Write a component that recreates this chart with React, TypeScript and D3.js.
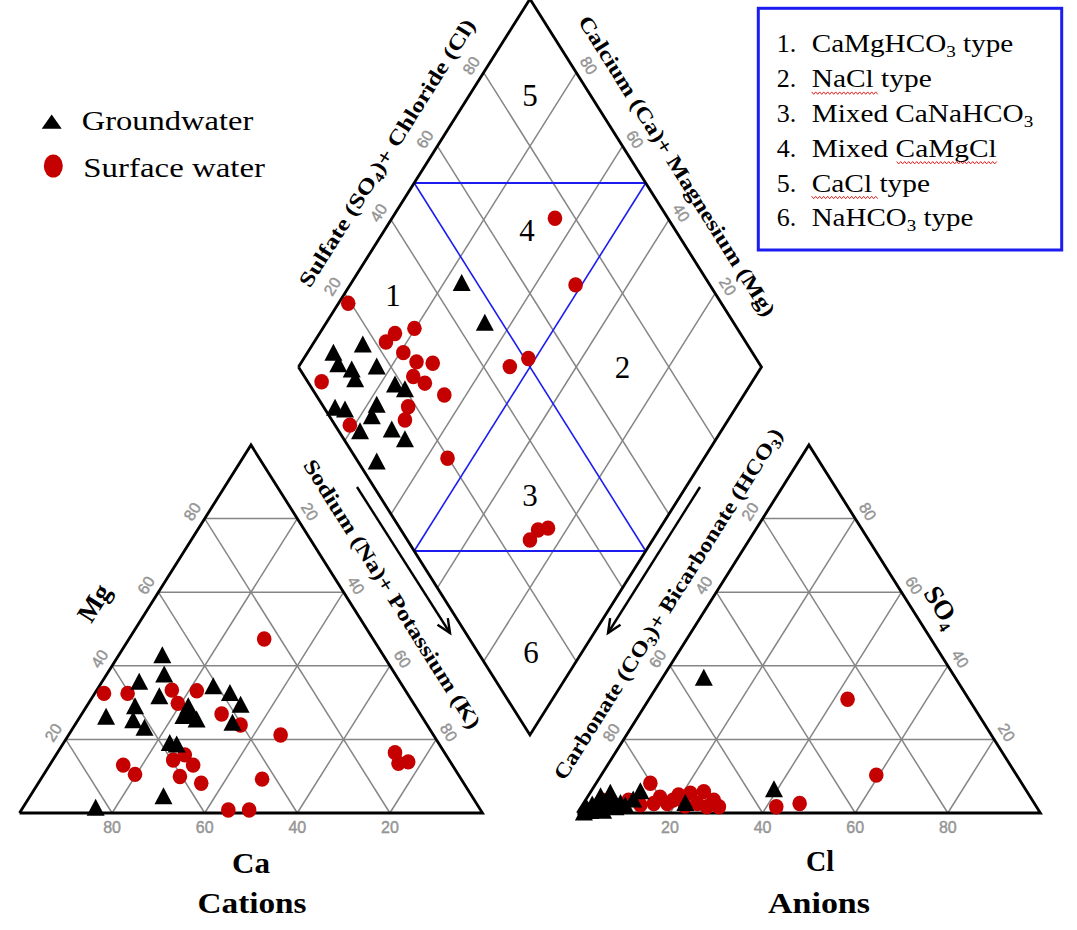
import React from "react";
import * as d3 from "d3";

const W = 1077;
const H = 930;

// geometry in triangle units (side = 1, height = 1)
const GAP = 0.205;
const DY0 = 0.212;
const TICKS = [20, 40, 60, 80];

// Cation triangle: [Ca %, Mg %]  (Na+K = 100 - Ca - Mg)
const cationGW: [number, number][] = [
  [47.8, 42.7], [50.0, 37.5], [56.4, 35.5], [54.0, 31.6], [68.3, 26.0], [60.6, 28.9],
  [62.9, 25.1], [61.5, 23.0], [49.1, 28.9], [49.9, 26.2], [49.1, 25.3], [51.5, 26.2],
  [41.0, 34.3], [38.3, 32.5], [37.6, 29.3], [41.8, 24.4], [58.1, 18.9], [56.8, 18.5],
  [66.7, 4.4], [82.9, 1.3],
];
const cationSW: [number, number][] = [
  [23.5, 47.3], [65.5, 32.5], [60.4, 32.5], [50.4, 33.4], [45.1, 33.2], [50.9, 29.8],
  [42.9, 26.9], [40.3, 23.9], [33.0, 21.2], [71.1, 13.0], [69.8, 10.5], [56.4, 15.8],
  [59.6, 14.4], [56.0, 13.0], [60.4, 9.9], [56.7, 8.1], [43.0, 9.2], [54.5, 0.8],
  [50.0, 0.8], [10.7, 16.4], [11.4, 13.5], [9.1, 13.9],
];

// Anion triangle: [SO4 %, Cl %]  (HCO3 = 100 - SO4 - Cl)
const anionGW: [number, number][] = [
  [36.6, 9.0], [6.3, 39.3], [0.4, 2.6], [1.7, 3.0], [5.4, 4.4], [2.6, 8.0], [5.8, 10.7],
  [2.6, 22.0], [4.4, 2.8], [0.0, 1.4], [3.5, 10.3], [1.4, 1.2], [2.2, 2.1], [1.4, 3.8],
  [1.9, 5.0], [1.4, 7.5], [1.9, 9.4], [0.5, 2.1], [0.5, 5.3], [3.0, 6.1],
];
const anionSW: [number, number][] = [
  [30.9, 42.9], [10.3, 59.4], [2.6, 46.7], [1.7, 42.1], [8.1, 11.7], [4.9, 19.4],
  [5.4, 21.7], [5.8, 24.4], [3.5, 27.7], [1.7, 29.7], [2.6, 24.6], [2.6, 18.1],
  [2.6, 15.2], [3.5, 9.3], [3.5, 3.6], [1.7, 7.3], [3.5, 18.9], [1.7, 27.1],
  [4.3, 15.7], [1.9, 22.3], [2.2, 12.5], [2.7, 5.3],
];

// Diamond: [Na+K %, SO4+Cl %]
const diamondGW: [number, number][] = [
  [23.9, 46.6], [34.3, 46.2], [10.9, 16.9], [5.7, 9.4], [8.3, 8.9], [11.9, 11.1],
  [14.0, 10.5], [16.9, 16.9], [23.3, 18.4], [26.1, 19.9], [13.5, 2.3], [15.9, 4.2],
  [22.1, 11.7], [22.6, 9.1], [22.1, 4.5], [28.7, 11.6], [32.9, 13.1], [29.8, 4.0],
];
const diamondSW: [number, number][] = [
  [35.2, 75.6], [48.7, 71.0], [45.6, 45.7], [48.5, 50.8], [2.1, 19.4], [16.3, 25.4],
  [15.5, 22.3], [19.8, 30.3], [20.7, 24.6], [24.8, 26.2], [28.5, 29.5], [7.0, 3.0],
  [26.1, 23.5], [29.5, 25.1], [35.3, 27.7], [29.1, 18.3], [30.2, 15.8], [19.0, 3.2],
  [44.6, 19.8], [73.5, 26.5], [73.9, 29.6], [75.8, 32.0],
];

// hydrochemical facies numbers, placed at [Na+K %, SO4+Cl %]
const regionNames = ["1", "2", "3", "4", "5", "6"];
const regionPos: [number, number][] = [
  [10.6, 30.2], [70, 70], [67.4, 32.6], [30.7, 68], [13, 87], [88.9, 11.5],
];

const legendItems = [
  { num: "1.", main: "CaMgHCO", sub: "3", rest: " type", len: 201.6, wavy: null },
  { num: "2.", main: "NaCl type", sub: "", rest: "", len: 120, wavy: [0, 66] },
  { num: "3.", main: "Mixed CaNaHCO", sub: "3", rest: "", len: 221.6, wavy: null },
  { num: "4.", main: "Mixed CaMgCl", sub: "", rest: "", len: 185, wavy: [85, 185] },
  { num: "5.", main: "CaCl type", sub: "", rest: "", len: 118.3, wavy: [0, 66] },
  { num: "6.", main: "NaHCO", sub: "3", rest: " type", len: 161.6, wavy: null },
];

const sx = d3.scaleLinear().domain([0, 1]).range([19.5, 19.5 + 463]);
const sy = d3.scaleLinear().domain([0, 1]).range([813, 813 - 368]);

const cationXY = (ca: number, mg: number): [number, number] => {
  const na = 100 - ca - mg;
  return [sx(na / 100 + mg / 200), sy(mg / 100)];
};
const anionXY = (so4: number, cl: number): [number, number] => [
  sx(1 + GAP + cl / 100 + so4 / 200),
  sy(so4 / 100),
];
const diamondXY = (n: number, c: number): [number, number] => {
  const lx = 0.5 + GAP / 2;
  const ly = DY0 + 1;
  return [sx(lx + 0.5 * (c / 100) + 0.5 * (n / 100)), sy(ly + c / 100 - n / 100)];
};

const RED = "#c50000";
const GRID = "#858585";
const BLUE = "#1c1cf0";
const SERIF = "'Liberation Serif', 'Times New Roman', serif";
const SANS = "'Liberation Sans', Arial, sans-serif";
const ANG = 57.8;

const line = d3.line<[number, number]>();

function Tri({ x, y }: { x: number; y: number }) {
  return <path d={`M${x},${y - 9.5}L${x + 9},${y + 7.5}L${x - 9},${y + 7.5}Z`} fill="#000" />;
}
function Dot({ x, y }: { x: number; y: number }) {
  return <ellipse cx={x} cy={y} rx={7.3} ry={7.7} fill={RED} />;
}

function TickLabel({ x, y, rot, t }: { x: number; y: number; rot: number; t: number }) {
  return (
    <text
      transform={`translate(${x},${y}) rotate(${rot})`}
      textAnchor="middle"
      dy="0.35em"
      fontFamily={SANS}
      fontSize={16}
      fill="#9a9a9a"
      stroke="#8a8a8a"
      strokeWidth={0.4}
    >
      {t}
    </text>
  );
}

function wavyPath(x0: number, x1: number, y: number) {
  const pts: [number, number][] = [];
  let i = 0;
  for (let x = x0; x <= x1; x += 2) {
    pts.push([x, y + (i % 2 === 0 ? -1.2 : 1.2)]);
    i++;
  }
  return line(pts) || "";
}

export default function App() {
  const grid: string[] = [];
  const outline: string[] = [];
  // cation triangle
  const cA: [number, number][] = [cationXY(100, 0), cationXY(0, 0), cationXY(0, 100)];
  outline.push(line([...cA, cA[0]])!);
  TICKS.forEach((k) => {
    grid.push(line([cationXY(100 - k, k), cationXY(0, k)])!);
    grid.push(line([cationXY(k, 0), cationXY(k, 100 - k)])!);
    grid.push(line([cationXY(100 - k, 0), cationXY(0, 100 - k)])!);
  });
  // anion triangle
  const aA: [number, number][] = [anionXY(0, 0), anionXY(0, 100), anionXY(100, 0)];
  outline.push(line([...aA, aA[0]])!);
  TICKS.forEach((k) => {
    grid.push(line([anionXY(k, 0), anionXY(k, 100 - k)])!);
    grid.push(line([anionXY(0, k), anionXY(100 - k, k)])!);
    grid.push(line([anionXY(0, 100 - k), anionXY(100 - k, 0)])!);
  });
  // diamond
  const dA: [number, number][] = [diamondXY(0, 0), diamondXY(0, 100), diamondXY(100, 100), diamondXY(100, 0)];
  outline.push(line([...dA, dA[0]])!);
  TICKS.forEach((k) => {
    grid.push(line([diamondXY(0, k), diamondXY(100, k)])!);
    grid.push(line([diamondXY(k, 0), diamondXY(k, 100)])!);
  });

  const blue: string[] = [
    line([diamondXY(0, 50), diamondXY(50, 100)])!,
    line([diamondXY(50, 0), diamondXY(100, 50)])!,
  ];
  const blueThin: string[] = [
    line([diamondXY(0, 50), diamondXY(100, 50)])!,
    line([diamondXY(50, 100), diamondXY(50, 0)])!,
  ];

  const ticks: { x: number; y: number; rot: number; t: number }[] = [];
  TICKS.forEach((k) => {
    const b = cationXY(k, 0);
    ticks.push({ x: b[0], y: b[1] + 14, rot: 0, t: k });
    const l = cationXY(100 - k, k);
    ticks.push({ x: l[0] - 12.5, y: l[1] - 7, rot: -ANG, t: k });
    const r = cationXY(0, 100 - k);
    ticks.push({ x: r[0] + 12.5, y: r[1] - 7, rot: ANG, t: k });
    const ab = anionXY(0, k);
    ticks.push({ x: ab[0], y: ab[1] + 14, rot: 0, t: k });
    const al = anionXY(100 - k, 0);
    ticks.push({ x: al[0] - 12.5, y: al[1] - 7, rot: -ANG, t: k });
    const ar = anionXY(k, 100 - k);
    ticks.push({ x: ar[0] + 12.5, y: ar[1] - 7, rot: ANG, t: k });
    const dl = diamondXY(0, k);
    ticks.push({ x: dl[0] - 12.5, y: dl[1] - 7, rot: -ANG, t: k });
    const dr = diamondXY(100 - k, 100);
    ticks.push({ x: dr[0] + 12.5, y: dr[1] - 7, rot: ANG, t: k });
  });

  const arrowHead = (x0: number, y0: number, x1: number, y1: number) => {
    const a = Math.atan2(y1 - y0, x1 - x0);
    const L = 15;
    const s = 0.42;
    return `M${x1 - L * Math.cos(a - s)},${y1 - L * Math.sin(a - s)}L${x1},${y1}L${x1 - L * Math.cos(a + s)},${y1 - L * Math.sin(a + s)}`;
  };

  return (
    <svg
      width={W}
      height={H}
      viewBox={`0 0 ${W} ${H}`}
      style={{ position: "absolute", left: 0, top: 0, background: "#fff" }}
    >
      <rect width={W} height={H} fill="#fff" />
      {grid.map((d, i) => (
        <path key={"g" + i} d={d} stroke={GRID} strokeWidth={1.5} fill="none" />
      ))}
      {blueThin.map((d, i) => (
        <path key={"bt" + i} d={d} stroke={BLUE} strokeWidth={1.6} fill="none" />
      ))}
      {blue.map((d, i) => (
        <path key={"b" + i} d={d} stroke={BLUE} strokeWidth={2.2} fill="none" />
      ))}
      {outline.map((d, i) => (
        <path key={"o" + i} d={d} stroke="#000" strokeWidth={2.8} fill="none" strokeLinejoin="miter" />
      ))}

      {ticks.map((t, i) => (
        <TickLabel key={"t" + i} {...t} />
      ))}

      {regionNames.map((nm, i) => {
        const [x, y] = diamondXY(regionPos[i][0], regionPos[i][1]);
        return (
          <text key={"r" + i} x={x} y={y} dy="0.35em" textAnchor="middle" fontFamily={SERIF} fontSize={31}>
            {nm}
          </text>
        );
      })}

      {cationSW.map((p, i) => {
        const [x, y] = cationXY(p[0], p[1]);
        return <Dot key={"cs" + i} x={x} y={y} />;
      })}
      {cationGW.map((p, i) => {
        const [x, y] = cationXY(p[0], p[1]);
        return <Tri key={"cg" + i} x={x} y={y} />;
      })}
      {anionSW.map((p, i) => {
        const [x, y] = anionXY(p[0], p[1]);
        return <Dot key={"as" + i} x={x} y={y} />;
      })}
      {anionGW.map((p, i) => {
        const [x, y] = anionXY(p[0], p[1]);
        return <Tri key={"ag" + i} x={x} y={y} />;
      })}
      {diamondSW.map((p, i) => {
        const [x, y] = diamondXY(p[0], p[1]);
        return <Dot key={"ds" + i} x={x} y={y} />;
      })}
      {diamondGW.map((p, i) => {
        const [x, y] = diamondXY(p[0], p[1]);
        return <Tri key={"dg" + i} x={x} y={y} />;
      })}

      <g fontFamily={SERIF} fontWeight="bold" fontSize={21}>
        <text transform={`translate(387,153) rotate(${-ANG})`} textAnchor="middle" y={7} textLength={312} lengthAdjust="spacingAndGlyphs">
          Sulfate (SO<tspan fontSize={14} dy={4}>4</tspan><tspan dy={-4}>)+ Chloride (Cl)</tspan>
        </text>
        <text transform={`translate(677,166) rotate(${ANG})`} textAnchor="middle" y={7} textLength={351} lengthAdjust="spacingAndGlyphs">
          Calcium (Ca)+ Magnesium (Mg)
        </text>
        <text transform={`translate(392,594) rotate(${ANG})`} textAnchor="middle" y={7} textLength={314} lengthAdjust="spacingAndGlyphs">
          Sodium (Na)+ Potassium (K)
        </text>
        <text transform={`translate(668,604) rotate(${-ANG})`} textAnchor="middle" y={7} textLength={411} lengthAdjust="spacingAndGlyphs">
          Carbonate (CO<tspan fontSize={14} dy={4}>3</tspan><tspan dy={-4}>)+ Bicarbonate (HCO</tspan><tspan fontSize={14} dy={4}>3</tspan><tspan dy={-4}>)</tspan>
        </text>
      </g>
      <g stroke="#000" strokeWidth={2.4} fill="none">
        <path d="M357,487L450,633" />
        <path d={arrowHead(357, 487, 450, 633)} />
        <path d="M700,487L608,633" />
        <path d={arrowHead(700, 487, 608, 633)} />
      </g>

      <g fontFamily={SERIF} fontWeight="bold">
        <text transform={`translate(94,603) rotate(${-ANG})`} textAnchor="middle" y={9} fontSize={27}>
          Mg
        </text>
        <text transform={`translate(942,607) rotate(${ANG})`} textAnchor="middle" y={9} fontSize={27}>
          SO<tspan fontSize={16} dy={5}>4</tspan>
        </text>
        <text x={251} y={873} textAnchor="middle" fontSize={30} textLength={38} lengthAdjust="spacingAndGlyphs">Ca</text>
        <text x={252} y={913} textAnchor="middle" fontSize={30} textLength={109} lengthAdjust="spacingAndGlyphs">Cations</text>
        <text x={820} y={871} textAnchor="middle" fontSize={30} textLength={28} lengthAdjust="spacingAndGlyphs">Cl</text>
        <text x={819} y={913} textAnchor="middle" fontSize={30} textLength={102} lengthAdjust="spacingAndGlyphs">Anions</text>
      </g>

      <path d="M51.7,114.5L61.7,128.7L41.7,128.7Z" fill="#000" />
      <text x={81.7} y={130} fontFamily={SERIF} fontSize={27} textLength={171.6} lengthAdjust="spacingAndGlyphs">
        Groundwater
      </text>
      <ellipse cx={53.3} cy={166} rx={9.5} ry={11.5} fill={RED} />
      <text x={83.3} y={176.5} fontFamily={SERIF} fontSize={27} textLength={181.7} lengthAdjust="spacingAndGlyphs">
        Surface water
      </text>

      <rect x={758.3} y={8.3} width={303.4} height={241.7} fill="#fff" stroke={BLUE} strokeWidth={3} />
      {legendItems.map((it, i) => {
        const y = 52.3 + i * 34.8;
        return (
          <g key={"l" + i} fontFamily={SERIF} fontSize={26}>
            <text x={776.7} y={y}>{it.num}</text>
            <text x={811.7} y={y} textLength={it.len} lengthAdjust="spacingAndGlyphs">
              {it.main}
              {it.sub ? (
                <tspan fontSize={17} dy={5}>
                  {it.sub}
                </tspan>
              ) : null}
              {it.rest ? <tspan dy={-5}>{it.rest}</tspan> : null}
            </text>
            {it.wavy ? (
              <path d={wavyPath(811.7 + it.wavy[0], 811.7 + it.wavy[1], y + 6)} stroke="#e02020" strokeWidth={1} fill="none" />
            ) : null}
          </g>
        );
      })}
    </svg>
  );
}
